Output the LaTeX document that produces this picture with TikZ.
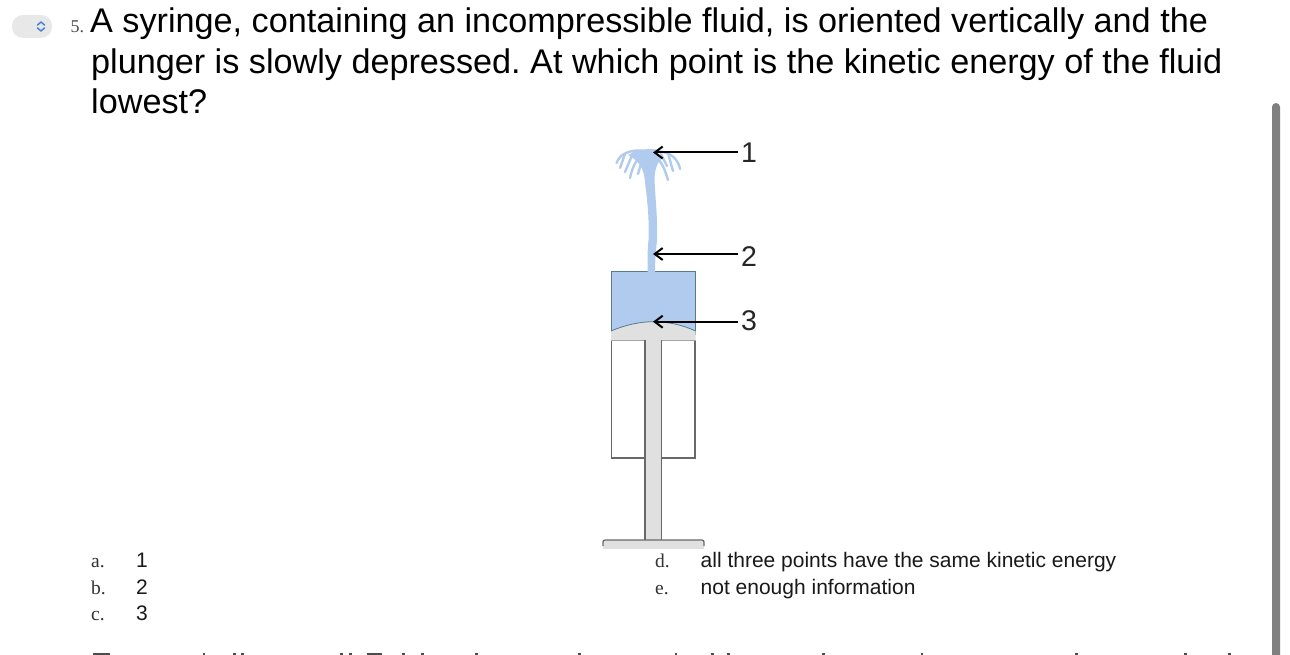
\documentclass[tikz,border=0pt]{standalone}
\usepackage{fontspec}
\setmainfont{Liberation Sans}
\newfontfamily\serifface{Liberation Serif}
\usetikzlibrary{arrows.meta}
\frenchspacing
\definecolor{fluid}{RGB}{176,203,238}
\definecolor{plungergray}{RGB}{224,224,224}
\definecolor{edgegray}{RGB}{105,105,105}
\definecolor{barrelteal}{RGB}{85,125,135}
\definecolor{chevron}{RGB}{70,130,215}
\tikzset{
  question/.style={anchor=base west,inner sep=0pt,font=\fontsize{34.2}{40}\selectfont,text=black},
  option/.style={anchor=base west,inner sep=0pt,font=\fontsize{21}{24}\selectfont,text=black!90},
  letter/.style={anchor=base west,inner sep=0pt,font=\serifface\fontsize{19.5}{20}\selectfont,text=black!80},
  callout/.style={anchor=base west,inner sep=0pt,font=\fontsize{28.5}{30}\selectfont,text=black!85},
  pointer/.style={draw=black,line width=2pt,-{Straight Barb[length=8pt,width=12pt,line width=2pt]}},
  spray/.style={draw=fluid,line width=2.4pt,line cap=round,line join=round},
  wall/.style={draw=edgegray,line width=1.3pt},
  cutmark/.style={fill=black!70}
}
\begin{document}
\begin{tikzpicture}[x=1pt,y=-1pt]
\useasboundingbox (0,0) rectangle (1290,655);
\fill[white] (0,0) rectangle (1290,655);
% toggle
\fill[black!9,rounded corners=11pt] (12,15) rectangle (52,38);
\draw[chevron,line width=1.5pt,line cap=round,line join=round] (37.5,25)--(41,22)--(44.5,25) (37.5,28)--(41,31)--(44.5,28);
% scrollbar
\fill[black!50,rounded corners=4pt] (1272,103) rectangle (1280,670);
% question
\node[anchor=base west,inner sep=0pt,font=\serifface\fontsize{18}{20}\selectfont,text=black!70] (qnum) at (70.5,33) {5.};
\node[question] (q1) at (90,33) {A syringe, containing an incompressible fluid, is oriented vertically and the};
\node[question] (q2) at (91,74) {plunger is slowly depressed. At which point is the kinetic energy of the fluid};
\node[question] (q3) at (91,114) {lowest?};
% barrel
\fill[fluid] (611.5,271) rectangle (695,335);
\draw[barrelteal,line width=1pt] (611.5,335)--(611.5,271)--(695,271)--(695,335);
\draw[wall] (611.5,340)--(611.5,458)--(645,458) (661,458)--(695,458)--(695,340);
% fluid jet
\fill[fluid] (647.5,272) .. controls (647.5,255) and (647.5,250) .. (648.5,240)
  .. controls (649.5,215) and (646.5,195) .. (644.5,178)
  .. controls (643.5,168) and (638,160) .. (628,155)
  .. controls (640,149) and (648,148.5) .. (656,149.5)
  .. controls (658,154) and (660,156) .. (662,158)
  .. controls (657,163) and (654.5,170) .. (654.5,180)
  .. controls (655.5,200) and (658,225) .. (657,240)
  .. controls (656,250) and (655,260) .. (655,272) -- cycle;
\draw[spray] (645,151)..controls (632,149) and (620,153) .. (616.5,163);
\draw[spray] (625,154)--(620,168) (633,153)--(625,172);
\draw[spray] (641,156)..controls (636,160) and (632,168) .. (630,178);
\draw[spray] (642,160)--(638,174);
\draw[spray] (654,151)..controls (664,151) and (677,154) .. (680,169);
\draw[spray] (668,153)--(673,171) (661,154)--(667,166);
\draw[spray] (656,157)..controls (662,162) and (665,170) .. (668,180);
% plunger head
\fill[plungergray] (611,340.5) -- (611,331) .. controls (625,325) and (640,321.7) .. (653,321.7)
  .. controls (668,321.7) and (683,325) .. (695.5,331) -- (695.5,340.5) -- cycle;
\draw[barrelteal,line width=.8pt] (611,331) .. controls (625,325) and (640,321.7) .. (653,321.7)
  .. controls (668,321.7) and (683,325) .. (695.5,331);
\draw[black!35,line width=1.2pt] (612,340.5)--(644,340.5) (662,340.5)--(695,340.5);
% rod
\fill[plungergray] (645,340) rectangle (661.5,540);
\draw[wall] (645,340)--(645,540) (661.5,340)--(661.5,540);
% handle
\fill[plungergray] (603,540) rectangle (704,549);
\draw[wall,rounded corners=2pt] (603,546)--(603,540)--(704,540)--(704,546);
% pointers
\coordinate (p1) at (653,152.5);
\coordinate (p2) at (653,254);
\coordinate (p3) at (653,321.7);
\coordinate (t1) at (738,152.5);
\coordinate (t2) at (738,254);
\coordinate (t3) at (738,321.7);
\node[callout] (n1) at (741,162.5) {1};
\node[callout] (n2) at (741,266) {2};
\node[callout] (n3) at (741,330) {3};
\draw[pointer] (t1)--(p1);
\draw[pointer] (t2)--(p2);
\draw[pointer] (t3)--(p3);
% options
\node[letter] (la) at (91,567.5) {a.};
\node[option] (oa) at (136,567.7) {1};
\node[letter] (lb) at (91,594.5) {b.};
\node[option] (ob) at (136,594.7) {2};
\node[letter] (lc) at (91,620.5) {c.};
\node[option] (oc) at (136,620.7) {3};
\node[letter] (ld) at (655,567.5) {d.};
\node[option] (od) at (700.5,567.7) {all three points have the same kinetic energy};
\node[letter] (le) at (655,594.5) {e.};
\node[option] (oe) at (700.5,594.7) {not enough information};
% tops of the next line, cut off by the page edge
\fill[cutmark] (93,652.5) rectangle (110,655);
\foreach \mx/\mw in {203/2,233/2.5,241/2.5,340/2.5,349/2.5,367/15,402/2.5,421/2.5,475/2.5,578/2.5,675/2,711/3,727/3,822/3,921/2,1075/3,1184/3,1228/3}
  \fill[cutmark] (\mx,653) rectangle ++(\mw,2);
\end{tikzpicture}
\end{document}
